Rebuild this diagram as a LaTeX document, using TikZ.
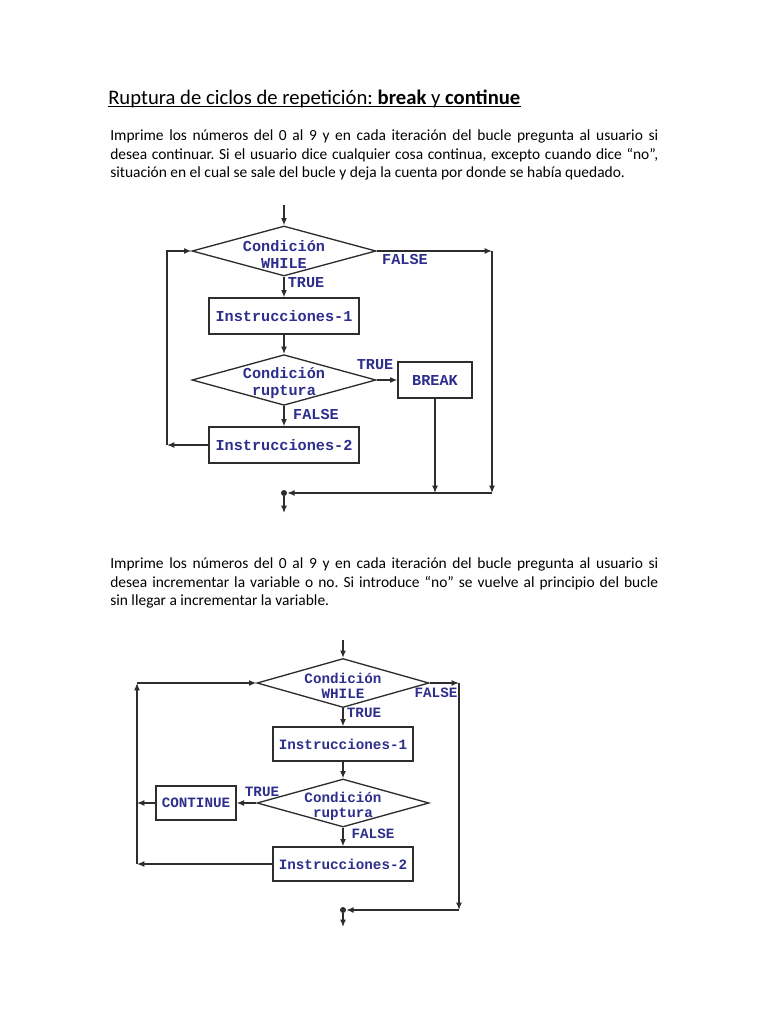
\documentclass[tikz,border=0pt]{standalone}
\usepackage{fontspec}
\setmainfont{Carlito}
\newfontfamily\codefont{Liberation Mono}
\usetikzlibrary{shapes.geometric,arrows.meta}
\definecolor{codeblue}{RGB}{46,46,140}
\definecolor{linegray}{RGB}{45,45,45}
\newcommand{\cfa}{\codefont\bfseries\fontsize{11.4}{12.8}\selectfont}
\newcommand{\cfb}{\codefont\bfseries\fontsize{10.7}{11.3}\selectfont}
\frenchspacing

\tikzset{
  flow/.style={draw=linegray, line width=1pt, -{Latex[length=5.5pt,width=4.5pt]}},
  cond/.style={diamond, draw=linegray, line width=1pt, inner sep=0pt},
  instr/.style={rectangle, draw=linegray, line width=1pt, inner sep=0pt, text=codeblue},
  ctext/.style={inner sep=0pt, align=center, text=codeblue},
  lbl/.style={inner sep=0pt, text=codeblue},
  joint/.style={circle, fill=linegray, inner sep=0pt, minimum size=4.5pt},
  para/.style={anchor=north west, inner sep=0pt, text width=411pt, align=justify,
    font=\fontsize{11.6}{13.9}\selectfont}
}

\begin{document}
\begin{tikzpicture}[x=0.75pt,y=-0.75pt]
\path[use as bounding box, fill=white] (0,0) rectangle (768,1024);

% texts
\node[anchor=base west, inner sep=0pt, font=\fontsize{15.5}{18}\selectfont] (title) at (108,104)
  {Ruptura de ciclos de repetición: \textbf{break} y \textbf{continue}};
\draw[line width=0.75pt] ([yshift=-2pt]title.base west) -- ([yshift=-2pt]title.base east);
\node[para] (txt1) at (110,129.5) {Imprime los números del 0 al 9 y en cada iteración del bucle pregunta al usuario si\linebreak
  desea continuar. Si el usuario dice cualquier cosa continua, excepto cuando dice “no”,\linebreak
  situación en el cual se sale del bucle y deja la cuenta por donde se había quedado.};
\node[para] (txt2) at (110,557.5) {Imprime los números del 0 al 9 y en cada iteración del bucle pregunta al usuario si\linebreak
  desea incrementar la variable o no. Si introduce “no” se vuelve al principio del bucle\linebreak
  sin llegar a incrementar la variable.};

% break
\begin{scope}[every node/.append style={font=\cfa}]
\coordinate (in1) at (284,205);
\node[cond, minimum width=138pt, minimum height=37.5pt] (w1) at (284,251) {};
\node[ctext] (w1t) at (284,254.5) {Condición\\WHILE};
\node[instr, minimum width=112.5pt, minimum height=27pt] (i1) at (284,316) {Instrucciones-1};
\node[cond, minimum width=138pt, minimum height=38pt] (r1) at (284,380) {};
\node[ctext] (r1t) at (284,383) {Condición\\ruptura};
\node[instr, minimum width=55.5pt, minimum height=27pt] (brk) at (435,380) {BREAK};
\node[instr, minimum width=112.5pt, minimum height=27pt] (i2) at (284,445) {Instrucciones-2};
\node[joint] (j1) at (284,493) {};
\coordinate (out1) at (284,513);
\coordinate (rx1) at (492,493);
\coordinate (lx1) at (167,445);
\node[lbl] (t1) at (306,283) {TRUE};
\node[lbl] (f1) at (405,259) {FALSE};
\node[lbl] (t2) at (375,365) {TRUE};
\node[lbl] (f2) at (316,414) {FALSE};

\draw[flow] (in1) -- (w1);
\draw[flow] (w1) -- (i1);
\draw[flow] (i1) -- (r1);
\draw[flow] (r1) -- (i2);
\draw[flow] (r1.east) -- (brk.west);
\draw[flow] (w1.east) -- (w1.east -| rx1);
\draw[flow] (w1.east -| rx1) -- (rx1);
\draw[flow] (brk.south) -- (brk.south |- j1);
\draw[flow] (rx1) -- (j1);
\draw[flow] (j1) -- (out1);
\draw[flow] (i2.west) -- (i2.west -| lx1);
\draw[flow] (i2.west -| lx1) -- (w1.west -| lx1) -- (w1.west);
\end{scope}

% continue
\begin{scope}[every node/.append style={font=\cfb}]
\coordinate (in2) at (343,640);
\node[cond, minimum width=129pt, minimum height=36.75pt] (w2) at (343,683) {};
\node[ctext] (w2t) at (343,686) {Condición\\WHILE};
\node[instr, minimum width=105pt, minimum height=25.5pt] (i3) at (343,744) {Instrucciones-1};
\node[cond, minimum width=129pt, minimum height=36pt] (r2) at (343,803) {};
\node[ctext] (r2t) at (343,806) {Condición\\ruptura};
\node[instr, minimum width=60pt, minimum height=25.5pt] (cont) at (196,803) {CONTINUE};
\node[instr, minimum width=105pt, minimum height=25.5pt] (i4) at (343,864) {Instrucciones-2};
\node[joint] (j2) at (343,910) {};
\coordinate (out2) at (343,927);
\coordinate (rx2) at (459,910);
\coordinate (lx2) at (137,864);
\node[lbl] (t3) at (364,713) {TRUE};
\node[lbl] (f3) at (436,693) {FALSE};
\node[lbl] (t4) at (262,792) {TRUE};
\node[lbl] (f4) at (373,834) {FALSE};

\draw[flow] (in2) -- (w2);
\draw[flow] (w2) -- (i3);
\draw[flow] (i3) -- (r2);
\draw[flow] (r2) -- (i4);
\draw[flow] (r2.west) -- (cont.east);
\draw[flow] (cont.west) -- (cont.west -| lx2);
\draw[flow] (i4.west) -- (lx2);
\draw[flow] (lx2) -- (w2.west -| lx2);
\draw[flow] (w2.west -| lx2) -- (w2.west);
\draw[flow] (w2.east) -- (w2.east -| rx2);
\draw[flow] (w2.east -| rx2) -- (rx2);
\draw[flow] (rx2) -- (j2);
\draw[flow] (j2) -- (out2);
\end{scope}
\end{tikzpicture}
\end{document}
